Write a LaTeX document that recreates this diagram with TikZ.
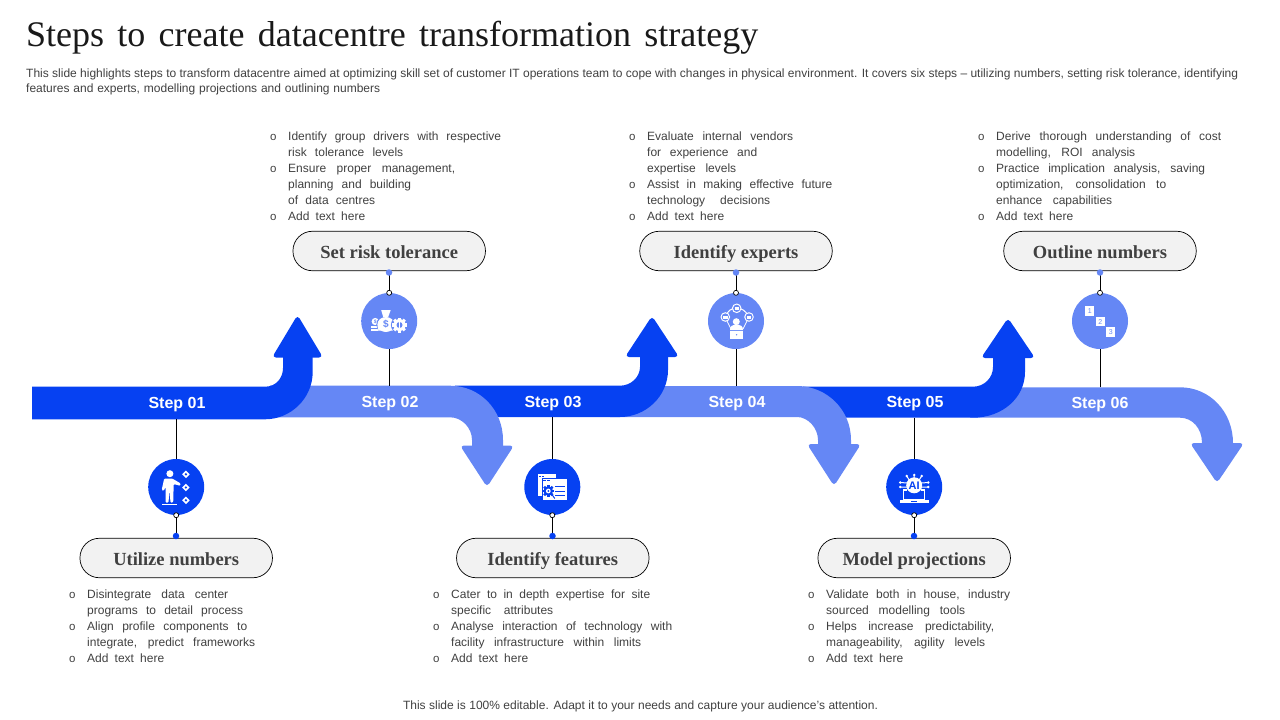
\documentclass[tikz,border=0pt]{standalone}
\usepackage{fontspec}
\setmainfont{Liberation Sans}
\newfontfamily\serifbody{Liberation Serif}
\definecolor{bluedark}{HTML}{0641F2}
\definecolor{bluelight}{HTML}{6587F5}
\definecolor{inktext}{HTML}{404040}
\newcommand{\lineW}[2]{\rule{0pt}{12pt}\hspace*{18pt}\makebox[#1pt][s]{#2}}
\newcommand{\bulW}[2]{\rule{0pt}{12pt}\makebox[18pt][l]{\fontsize{11.5}{10}\selectfont o}\makebox[#1pt][s]{#2}}
\newcommand{\geariconx}[5]{% x y r fill hole
  \foreach \ga in {0,45,...,315}{\draw[#4,line width=#3*0.42pt] (#1,#2) -- ++(\ga:#3);}
  \fill[#4] (#1,#2) circle[radius=#3*0.8];
  \fill[#5] (#1,#2) circle[radius=#3*0.4];}
\tikzset{
  bandA/.style={fill=bluedark,draw=none},
  bandB/.style={fill=bluelight,draw=none},
  headA/.style={fill=bluedark,draw=none,rounded corners=4pt},
  headB/.style={fill=bluelight,draw=none,rounded corners=4pt},
  pill/.style={draw=black,line width=0.7pt,fill=black!5,rounded corners=19.5pt,minimum width=192.5pt,minimum height=39.5pt,inner sep=0pt,text height=16pt,text depth=2pt,text=inktext,font=\serifbody\bfseries\fontsize{18.5}{20}\selectfont},
  stepnum/.style={text=white,inner sep=0pt,font=\bfseries\fontsize{16}{18}\selectfont},
  iconA/.style={circle,fill=bluedark,minimum size=56pt,inner sep=0pt},
  iconB/.style={circle,fill=bluelight,minimum size=56pt,inner sep=0pt},
  link/.style={draw=black,line width=1pt},
  opendot/.style={circle,draw=black,fill=white,line width=0.7pt,minimum size=5pt,inner sep=0pt},
  enddotA/.style={circle,fill=bluedark,minimum size=6.5pt,inner sep=0pt},
  enddotB/.style={circle,fill=bluelight,minimum size=6.5pt,inner sep=0pt},
  listtext/.style={anchor=north west,align=left,inner sep=0pt,text=inktext,font=\fontsize{12}{16}\selectfont},
}
\begin{document}
\begin{tikzpicture}[x=1pt,y=-1pt]
\useasboundingbox (0,0) rectangle (1280,720);
% header
\node[anchor=base west,inner sep=0pt,text=black!90,font=\serifbody\fontsize{36}{40}\selectfont] (title) at (26,46) {\makebox[732pt][s]{Steps to create datacentre transformation strategy}};
\node[anchor=base west,inner sep=0pt,text=inktext,font=\fontsize{12}{14}\selectfont] (subone) at (26,77.5) {\makebox[1212pt][s]{This slide highlights steps to transform datacentre aimed at optimizing skill set of customer IT operations team to cope with changes in physical environment. It covers six steps -- utilizing numbers, setting risk tolerance, identifying}};
\node[anchor=base west,inner sep=0pt,text=inktext,font=\fontsize{12}{14}\selectfont] (subtwo) at (26,92.5) {\makebox[354pt][s]{features and experts, modelling projections and outlining numbers}};
\node[anchor=base,inner sep=0pt,text=inktext,font=\fontsize{12}{14}\selectfont] (foot) at (640.5,709.5) {\makebox[475pt][s]{This slide is 100\% editable. Adapt it to your needs and capture your audience's attention.}};
% arrows, back to front
\fill[bandB] (1000,387.3)--(1180,387.3) .. controls (1210,387.3) and (1233,412) .. (1233,443)--(1233,449)--(1202,449)--(1202,443) .. controls (1202,428) and (1192,417.7) .. (1180,417.7)--(970,417.7)--cycle;
\fill[headB] (1217,483)--(1244,443)--(1190,443)--cycle;
\fill[bandA] (803,386.7)--(973,386.7) .. controls (984,386.7) and (993,378) .. (993,367)--(993,355)--(1025,355)--(1025,372) .. controls (1025,398) and (1002,417.7) .. (973,417.7)--(810,417.7)--cycle;
\fill[headA] (1008,318)--(1035,358)--(981,358)--cycle;
\fill[bandB] (630,386)--(797,386) .. controls (827,386) and (851,410) .. (851,440)--(851,449)--(818,449)--(818,440) .. controls (818,428) and (808,417) .. (797,417)--(610,417)--cycle;
\fill[headB] (834,486)--(861,444)--(807,444)--cycle;
\fill[bandA] (455,385.7)--(620,385.7) .. controls (631,385.7) and (640,377) .. (640,367)--(640,355)--(668,355)--(668,370) .. controls (668,396) and (646,417) .. (620,417)--(475,417)--cycle;
\fill[headA] (652,316)--(679,357)--(625,357)--cycle;
\fill[bandB] (270,385.7)--(450,385.7) .. controls (480,385.7) and (503,410) .. (503,440)--(503,449)--(472,449)--(472,440) .. controls (472,428) and (462,417.3) .. (450,417.3)--(270,417.3)--cycle;
\fill[headB] (487,487)--(514,445.5)--(460,445.5)--cycle;
\fill[bandA] (32,386.7)--(265,386.7) .. controls (276,386.7) and (283,378) .. (283,368)--(283,355)--(312.7,355)--(312.7,372) .. controls (312.7,398) and (291,419.3) .. (265,419.3)--(32,419.3)--cycle;
\fill[headA] (297.5,315)--(323,357.5)--(272,357.5)--cycle;
% step labels
\node[stepnum] (s1) at (177,404.5) {Step 01};
\node[stepnum] (s2) at (390,403.5) {Step 02};
\node[stepnum] (s3) at (553,403.5) {Step 03};
\node[stepnum] (s4) at (737,403.5) {Step 04};
\node[stepnum] (s5) at (915,403.5) {Step 05};
\node[stepnum] (s6) at (1100,404.5) {Step 06};
% band ends of connectors
\coordinate (b1) at (176.2,419.3);
\coordinate (b2) at (389.2,385.7);
\coordinate (b3) at (552.3,417);
\coordinate (b4) at (736,386);
\coordinate (b5) at (914.2,417.7);
\coordinate (b6) at (1100,387.3);
% circles
\node[iconA] (c1) at (176.2,487) {};
\node[iconB] (c2) at (389.2,321) {};
\node[iconA] (c3) at (552.3,487) {};
\node[iconB] (c4) at (736,321) {};
\node[iconA] (c5) at (914.2,487) {};
\node[iconB] (c6) at (1100,321) {};
% pills
\node[pill] (p1) at (176.2,558) {Utilize numbers};
\node[pill] (p2) at (389.2,251) {Set risk tolerance};
\node[pill] (p3) at (552.8,558) {Identify features};
\node[pill] (p4) at (736,251) {Identify experts};
\node[pill] (p5) at (914.2,558) {Model projections};
\node[pill] (p6) at (1100,251) {Outline numbers};
% connectors
\draw[link] (b1) -- (c1.north);
\draw[link] (b2) -- (c2.south);
\draw[link] (b3) -- (c3.north);
\draw[link] (b4) -- (c4.south);
\draw[link] (b5) -- (c5.north);
\draw[link] (b6) -- (c6.south);
\draw[link] (c1.south) -- (c1.south |- p1.north);
\draw[link] (c2.north) -- (c2.north |- p2.south);
\draw[link] (c3.south) -- (c3.south |- p3.north);
\draw[link] (c4.north) -- (c4.north |- p4.south);
\draw[link] (c5.south) -- (c5.south |- p5.north);
\draw[link] (c6.north) -- (c6.north |- p6.south);
% connector dots
\node[opendot] (o1) at (c1.south) {};
\node[opendot] (o2) at (c2.north) {};
\node[opendot] (o3) at (c3.south) {};
\node[opendot] (o4) at (c4.north) {};
\node[opendot] (o5) at (c5.south) {};
\node[opendot] (o6) at (c6.north) {};
\node[enddotA] (e1) at (176,536) {};
\node[enddotB] (e2) at (389,272.5) {};
\node[enddotA] (e3) at (552.5,536) {};
\node[enddotB] (e4) at (736,272.5) {};
\node[enddotA] (e5) at (914,536) {};
\node[enddotB] (e6) at (1100,272.5) {};
% icon 1: person and diamonds
\begin{scope}[shift={(c1.center)}]
\fill[white] (-6.3,-13.3) circle[radius=3.5];
\fill[white,rounded corners=1pt] (-12,-8.5)--(-4,-8.5)--(4.5,-3.5)--(4,-1.2)--(-2.5,-3)--(-3,15.5)--(-5.7,15.5)--(-6.7,3)--(-7.7,15.5)--(-10.7,15.5)--(-10.7,0)--(-12.5,4)--(-14.5,3)--cycle;
\fill[white] (-14,16.7) rectangle (0.5,17.9);
\foreach \dy in {-12.7,0.5,13.3}{
  \fill[white] (9.7,\dy-3.8)--(13.5,\dy)--(9.7,\dy+3.8)--(5.9,\dy)--cycle;
  \fill[bluedark] (9.7,\dy) circle[radius=1.3];}
\end{scope}
% icon 2: money bags and gear
\begin{scope}[shift={(c2.center)}]
\fill[white] (-14,0.5) circle[radius=3.6];
\fill[white] (-18,4.5) rectangle (-10.5,9.5);
\draw[bluelight,line width=0.5pt] (-18,7)--(-10.5,7);
\fill[bluelight] (-3.3,3.5) circle[radius=9.5];
\fill[white] (-3.3,3.5) ellipse[x radius=8.5,y radius=7.5];
\fill[white] (-8,-11)--(1.5,-11)--(-1,-4)--(-6,-4)--cycle;
\fill[white,rounded corners=1pt] (-11.8,4)--(-11,9.5)--(4.4,9.5)--(5.2,4)--cycle;
\node[inner sep=0pt,text=bluelight,font=\bfseries\fontsize{10}{10}\selectfont] (dollar) at (-3.3,3.5) {\$};
\node[inner sep=0pt,text=bluelight,font=\bfseries\fontsize{5}{5}\selectfont] (dollartwo) at (-14,0.5) {\$};
\fill[bluelight] (10.3,4) circle[radius=8.6];
\geariconx{10.3}{4}{7.5}{white}{bluelight}
\fill[white] (9.7,1.2) rectangle (10.9,6.8);
\end{scope}
% icon 3: windows, gear and lines
\begin{scope}[shift={(c3.center)}]
\fill[white] (-14.7,-12.7) rectangle (4,8.5);
\fill[bluedark] (-13.5,-11.5) rectangle (-11.5,-10);
\fill[bluedark] (-10.5,-11.5) rectangle (-8.5,-10);
\fill[white,draw=bluedark,line width=0.6pt] (-10.5,-9) rectangle (14.5,13.5);
\fill[bluedark] (-9,-6.8) rectangle (-6,-5.6);
\fill[bluedark] (-5,-6.8) rectangle (-2,-5.6);
\geariconx{-4}{4}{6}{bluedark}{white}
\fill[bluedark] (-4,4) circle[radius=1];
\draw[bluedark,line width=1pt] (0,8)--(2.5,11.5);
\draw[bluedark,line width=1pt] (3,-0.7)--(13,-0.7) (3,4)--(13,4) (3,8.7)--(13,8.7);
\end{scope}
% icon 4: experts network
\begin{scope}[shift={(c4.center)}]
\draw[white,line width=1pt] (-10.7,-4) .. controls (-8,-11) and (-4,-13) .. (0.7,-12.7) .. controls (6,-13) and (10,-10) .. (13,-4);
\draw[white,line width=0.8pt] (-9,0)--(-5,8) (11,0)--(7,8);
\foreach \ix/\iy in {0.7/-12.7,-10.7/-4,13/-4}{
  \fill[white] (\ix,\iy) circle[radius=4.8];
  \fill[bluelight] (\ix,\iy) circle[radius=3.6];
  \fill[white] (\ix-2.2,\iy-1.2) rectangle (\ix+2.2,\iy+1.6);}
\fill[white] (0.3,0.7) circle[radius=3.5];
\fill[white] (-6,9) .. controls (-6,4.5) and (-3,3.8) .. (0.3,3.8) .. controls (4,3.8) and (7,4.5) .. (7,9) -- cycle;
\fill[white] (-6,9.5) rectangle (7.3,18.3);
\fill[bluelight] (0.6,13.8) circle[radius=0.8];
\end{scope}
% icon 5: AI and laptop
\begin{scope}[shift={(c5.center)}]
\draw[white,line width=1pt] (0,-9)--(0,-12) (-5,-7)--(-7.5,-11) (5,-7)--(7.5,-11)
  (-7,-4)--(-14,-4.5) (7,-4)--(14,-4.5) (-7,0)--(-14,0) (7,0)--(14,0);
\foreach \ix/\iy in {0/-12,-7.5/-11,7.5/-11,-14/-4.5,14/-4.5,-14/0,14/0}{\fill[white] (\ix,\iy) circle[radius=1.4];}
\draw[white,line width=1.2pt] (-7,3)--(-10.5,3)--(-10.5,12.5)--(10.5,12.5)--(10.5,3)--(7,3);
\fill[white] (-14,13.3) rectangle (14.3,15.7);
\fill[bluedark] (-3,14.1) rectangle (3,15);
\fill[white] (0,-1.7) circle[radius=8];
\node[inner sep=0pt,text=bluedark,font=\bfseries\fontsize{11}{11}\selectfont] (aitext) at (0,-1.7) {AI};
\end{scope}
% icon 6: numbered squares
\begin{scope}[shift={(c6.center)}]
\fill[white] (-15,-14.7) rectangle (-5.6,-5.3);
\fill[white] (-4.4,-4) rectangle (5,5.4);
\fill[white] (6,6.3) rectangle (15.4,15.7);
\node[inner sep=0pt,text=bluelight,font=\fontsize{7}{7}\selectfont] (n1) at (-10.3,-10) {1};
\node[inner sep=0pt,text=bluelight,font=\fontsize{7}{7}\selectfont] (n2) at (0.3,0.7) {2};
\node[inner sep=0pt,text=bluelight,font=\fontsize{7}{7}\selectfont] (n3) at (10.7,11) {3};
\end{scope}
% lists
\node[listtext] (l1) at (69,586.5) {\bulW{141}{Disintegrate data center}\\\lineW{156}{programs to detail process}\\\bulW{160}{Align profile components to}\\\lineW{168}{integrate, predict frameworks}\\\bulW{77}{Add text here}};
\node[listtext] (l2) at (270,128.5) {\bulW{213}{Identify group drivers with respective}\\\lineW{115}{risk tolerance levels}\\\bulW{167}{Ensure proper management,}\\\lineW{123}{planning and building}\\\lineW{87}{of data centres}\\\bulW{77}{Add text here}};
\node[listtext] (l3) at (433,586.5) {\bulW{199}{Cater to in depth expertise for site}\\\lineW{102}{specific attributes}\\\bulW{221}{Analyse interaction of technology with}\\\lineW{190}{facility infrastructure within limits}\\\bulW{77}{Add text here}};
\node[listtext] (l4) at (629,128.5) {\bulW{146}{Evaluate internal vendors}\\\lineW{110}{for experience and}\\\lineW{89}{expertise levels}\\\bulW{185}{Assist in making effective future}\\\lineW{123}{technology decisions}\\\bulW{77}{Add text here}};
\node[listtext] (l5) at (808,586.5) {\bulW{184}{Validate both in house, industry}\\\lineW{139}{sourced modelling tools}\\\bulW{168}{Helps increase predictability,}\\\lineW{159}{manageability, agility levels}\\\bulW{77}{Add text here}};
\node[listtext] (l6) at (978,128.5) {\bulW{225}{Derive thorough understanding of cost}\\\lineW{139}{modelling, ROI analysis}\\\bulW{209}{Practice implication analysis, saving}\\\lineW{170}{optimization, consolidation to}\\\lineW{116}{enhance capabilities}\\\bulW{77}{Add text here}};
\end{tikzpicture}
\end{document}
